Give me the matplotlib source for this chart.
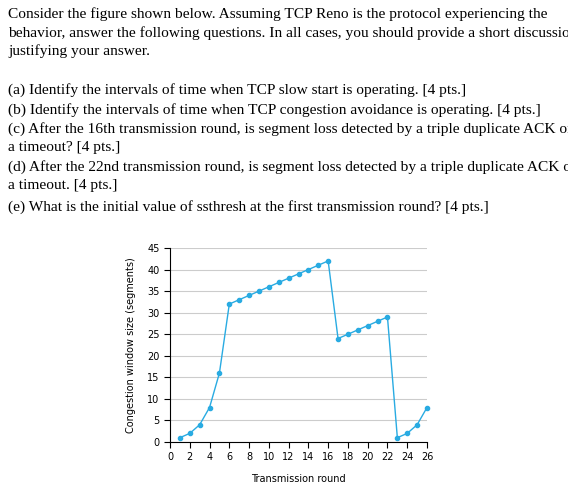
import matplotlib
matplotlib.use("Agg")
import matplotlib.pyplot as plt

rounds = list(range(1, 27))
cwnd = [1, 2, 4, 8, 16, 32, 33, 34, 35, 36, 37, 38, 39, 40, 41, 42,
        24, 25, 26, 27, 28, 29, 1, 2, 4, 8]
xticks = list(range(0, 27, 2))
yticks = list(range(0, 46, 5))

lines = [
    "Consider the figure shown below. Assuming TCP Reno is the protocol experiencing the",
    "behavior, answer the following questions. In all cases, you should provide a short discussion",
    "justifying your answer.",
    "",
    "(a) Identify the intervals of time when TCP slow start is operating. [4 pts.]",
    "(b) Identify the intervals of time when TCP congestion avoidance is operating. [4 pts.]",
    "(c) After the 16th transmission round, is segment loss detected by a triple duplicate ACK or by",
    "a timeout? [4 pts.]",
    "(d) After the 22nd transmission round, is segment loss detected by a triple duplicate ACK or by",
    "a timeout. [4 pts.]",
    "(e) What is the initial value of ssthresh at the first transmission round? [4 pts.]",
]
ypix = [14, 33, 51, 70, 90, 110, 129, 148, 167, 186, 207]

fig = plt.figure(figsize=(5.68, 4.93), dpi=100)
for t, y in zip(lines, ypix):
    fig.text(8/568, 1 - y/493, t, family="Liberation Serif", fontsize=11.1,
             va="center", ha="left")

ax = fig.add_axes([170/568, 51/493, 257/568, 194/493])
ax.plot(rounds, cwnd, color="#29abe2", lw=1, marker="o", ms=3, zorder=3,
        clip_on=False)
ax.set_xlim(0, 26)
ax.set_ylim(0, 45)
ax.set_xticks(xticks)
ax.set_yticks(yticks)
ax.yaxis.grid(True, color="#cccccc", lw=0.8)
ax.set_axisbelow(True)
for s in ["top", "right"]:
    ax.spines[s].set_visible(False)
ax.tick_params(labelsize=7, length=4, direction="out")
ax.set_xlabel("Transmission round", fontsize=7, labelpad=8)
ax.set_ylabel("Congestion window size (segments)", fontsize=7, labelpad=8)
fig.savefig("out.png", dpi=100)
